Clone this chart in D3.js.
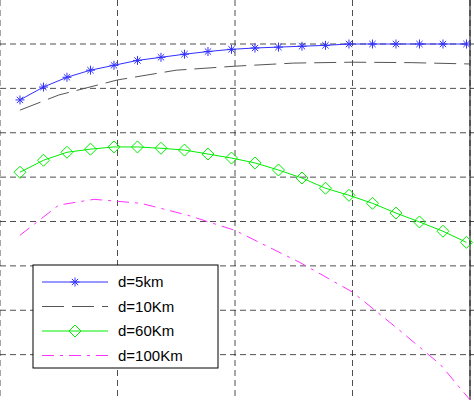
<!DOCTYPE html>
<html><head><meta charset="utf-8">
<script src="https://cdn.jsdelivr.net/npm/d3@7"></script>
<style>body{margin:0;background:#fff}</style>
</head><body><svg id="c" width="474" height="400"></svg>
<script>
// x positions of the markers, y values in plot units
const xs = [0.17,0.37,0.57,0.77,0.97,1.17,1.37,1.57,1.77,1.97,2.17,2.37,2.57,2.77,2.97,3.17,3.37,3.57,3.77,3.97];
const d5 = [6.74,7.03,7.25,7.41,7.52,7.63,7.70,7.77,7.83,7.88,7.91,7.93,7.95,7.97,8.0,8.0,8.0,8.0,8.0,8.0];
const d10x = [0.17,0.5,1.0,1.5,2.0,2.5,3.0,3.5,4.0];
const d10 = [6.51,6.85,7.19,7.41,7.50,7.57,7.59,7.58,7.55];
const d60 = [5.11,5.38,5.56,5.63,5.68,5.68,5.65,5.61,5.52,5.43,5.32,5.16,4.98,4.75,4.59,4.41,4.19,3.99,3.78,3.53];
const d100x = [0.17,0.5,0.8,1.2,1.6,2.0,2.55,3.0,3.4,3.75,4.0];
const d100 = [3.69,4.37,4.50,4.41,4.14,3.80,3.08,2.41,1.55,0.77,-0.02];
const xTicks = [0,1,2,3,4];
const yTicks = [1,2,3,4,5,6,7,8];

const svg = d3.select("#c");
const x = d3.scaleLinear().domain([0,4]).range([0,470]);
const y = d3.scaleLinear().domain([0,8]).range([399,44]);

svg.append("g").selectAll("line").data(xTicks).join("line")
  .attr("x1", d => x(d)).attr("x2", d => x(d)).attr("y1", 0).attr("y2", 400)
  .attr("stroke", "#222").attr("stroke-dasharray", "6,4").attr("stroke-width", 0.8);
svg.append("g").selectAll("line").data(yTicks).join("line")
  .attr("x1", 0).attr("x2", 474).attr("y1", d => y(d)).attr("y2", d => y(d))
  .attr("stroke", "#222").attr("stroke-dasharray", "6,4").attr("stroke-width", 0.8);
svg.append("line").attr("x1", x(4)).attr("x2", x(4)).attr("y1", 0).attr("y2", 400).attr("stroke", "#000");

const line = d3.line().x(d => x(d[0])).y(d => y(d[1]));
const series = [
  {name:"d=5km", pts:d3.zip(xs,d5), color:"#3030ff", dash:null, mark:"star"},
  {name:"d=10Km", pts:d3.zip(d10x,d10), color:"#555", dash:"22,8", mark:null},
  {name:"d=60Km", pts:d3.zip(xs,d60), color:"#00ee00", dash:null, mark:"diamond"},
  {name:"d=100Km", pts:d3.zip(d100x,d100), color:"#ff33ff", dash:"12,6,3,6", mark:null}
];
function marker(g, type, color, cx, cy){
  if (type === "star") {
    const s = 4.5;
    g.append("path").attr("d",
      `M${cx-s},${cy}L${cx+s},${cy}M${cx},${cy-s}L${cx},${cy+s}M${cx-s*0.7},${cy-s*0.7}L${cx+s*0.7},${cy+s*0.7}M${cx-s*0.7},${cy+s*0.7}L${cx+s*0.7},${cy-s*0.7}`)
      .attr("stroke", color).attr("fill", "none");
  } else if (type === "diamond") {
    const s = 6;
    g.append("path").attr("d", `M${cx},${cy-s}L${cx+s},${cy}L${cx},${cy+s}L${cx-s},${cy}Z`)
      .attr("stroke", color).attr("fill", "none");
  }
}
series.forEach(s => {
  svg.append("path").datum(s.pts).attr("d", line).attr("fill", "none")
    .attr("stroke", s.color).attr("stroke-width", 1).attr("stroke-dasharray", s.dash);
  if (s.mark) {
    const g = svg.append("g");
    s.pts.forEach(p => marker(g, s.mark, s.color, x(p[0]), y(p[1])));
  }
});

const lg = svg.append("g");
lg.append("rect").attr("x", 33).attr("y", 265).attr("width", 185).attr("height", 103)
  .attr("fill", "#fff").attr("stroke", "#000");
series.forEach((s, i) => {
  const ly = 282 + i * 24.5;
  lg.append("line").attr("x1", 42).attr("x2", 108).attr("y1", ly).attr("y2", ly)
    .attr("stroke", s.color).attr("stroke-dasharray", s.dash);
  if (s.mark) marker(lg, s.mark, s.color, 75, ly);
  lg.append("text").attr("x", 118).attr("y", ly + 5).text(s.name)
    .attr("font-family", "Liberation Sans, Arial").attr("font-size", 15);
});
</script></body></html>
